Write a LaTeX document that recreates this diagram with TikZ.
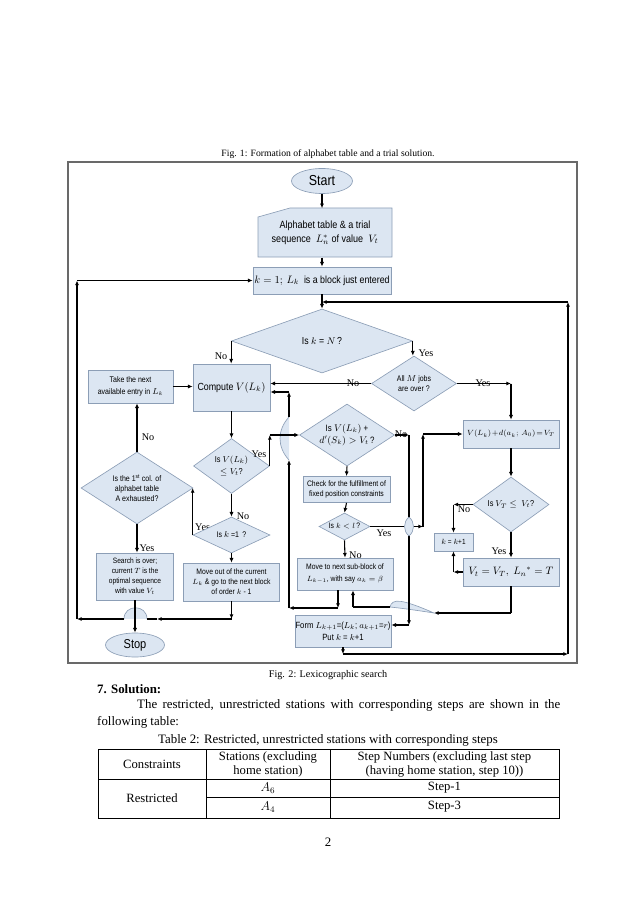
\documentclass[tikz,border=0pt]{standalone}
\usepackage{fontspec}
\setmainfont{Liberation Serif}
\newfontfamily\fcfam[FakeStretch=0.86]{Liberation Sans}
\usetikzlibrary{shapes.geometric,arrows.meta}
\definecolor{fcol}{RGB}{220,230,242}
\definecolor{bcol}{RGB}{140,158,182}
\definecolor{frmcol}{RGB}{105,105,105}
\newcommand{\pxu}{0.9326pt}
\begin{document}
\begin{tikzpicture}[x=0.9326pt,y=-0.9326pt,
  fcf/.style 2 args={font={\fcfam\fontsize{#1}{#2}\selectfont}},
  fc/.style={draw=bcol, fill=fcol, line width=0.6pt, inner sep=0pt, align=center},
  bx/.style 2 args={fc, rectangle, minimum width=#1*\pxu, minimum height=#2*\pxu},
  plainbox/.style 2 args={rectangle, inner sep=0pt, align=center, minimum width=#1*\pxu, minimum height=#2*\pxu},
  dm/.style n args={3}{fc, diamond, shape aspect=#3, minimum width=#1*\pxu, minimum height=#2*\pxu},
  el/.style 2 args={fc, ellipse, minimum width=#1*\pxu, minimum height=#2*\pxu},
  arr/.style={-{Latex[length=4.4pt,width=3.8pt]}, line width=1pt},
  ln/.style={line width=1pt},
  shp/.style={draw=bcol, fill=fcol, line width=0.6pt},
  lbl/.style={font=\fontsize{9.5}{10}\selectfont, inner sep=0pt},
  txt/.style={font=\fontsize{12}{14}\selectfont, inner sep=0pt},
  cellt/.style={font=\fontsize{11.8}{13.5}\selectfont, inner sep=0pt, align=center}]
\useasboundingbox (0,0) rectangle (638,902);

% captions
\node[font=\fontsize{9}{10}\selectfont, inner sep=0pt] (cap1) at (328,154) {Fig. 1: Formation of alphabet table and a trial solution.};
\draw[frmcol, line width=1.2pt] (68,162) rectangle (577,663);

% labels hidden partly behind shapes
\node[lbl, anchor=west] (lYes5) at (195,527) {Yes};
\node[lbl, anchor=west] (lNo7) at (349,555.5) {No};

% hops drawn under connectors
\fill[fcol] (124,619) .. controls (124,604) and (147,604) .. (147,619) -- cycle;
\draw[bcol, line width=0.6pt] (124,619) .. controls (124,604) and (147,604) .. (147,619);
\fill[fcol] (289,460) .. controls (277,447) and (277,430) .. (289,417) -- cycle;
\draw[bcol, line width=0.6pt] (289,460) .. controls (277,447) and (277,430) .. (289,417);

% nodes
\node[el={61}{25}, fcf={13.5}{16}] (start) at (322,181) {Start};
\filldraw[shp] (258,217) -- (290,208) -- (392,208) -- (392,257) -- (258,257) -- cycle;
\node[plainbox={134}{49}, fcf={9.8}{12.5}] (alpha) at (325,233) {Alphabet table \& a trial\\ sequence \ $L_n^{*}$ of value \ $V_t$};
\node[bx={138}{27}, fcf={9.6}{11}] (kbox) at (322,280.5) {$k = 1;\, L_k$ \ is a block just entered};
\node[dm={181}{64}{2.83}, fcf={9.5}{11}] (kN) at (322,341) {Is $k$ = $N$\,?};
\node[dm={85}{55}{1.55}, fcf={7.6}{9.5}] (allM) at (414,383.5) {All $M$ jobs\\ are over ?};
\node[bx={85}{33}, fcf={7.6}{11}] (take) at (130.5,386.5) {Take the next\\ available entry in $L_k$};
\node[bx={77}{47}, fcf={9.6}{11}] (compute) at (231.5,387.5) {Compute $V(L_k)$};
\node[dm={95}{62}{1.53}, fcf={8.6}{10.8}] (dprime) at (347,435) {Is $V(L_k)$ +\\ $d'(S_k) > V_t$\,?};
\node[bx={96}{28}, fcf={6.9}{9}] (vtd) at (511,434) {$V(L_k)\!+\!d(a_k;\, A_0)\!=\!V_T$};
\node[dm={76}{55}{1.38}, fcf={8}{11.5}] (leq) at (231.5,466) {Is $V(L_k)$\\ $\leq V_t$?};
\node[bx={87}{26}, fcf={7.4}{9.3}] (check) at (346.5,489.5) {Check for the fulfillment of\\ fixed position constraints};
\node[dm={112}{72}{1.55}, fcf={7.6}{9.6}] (col) at (137,488) {Is the 1\textsuperscript{st} col. of\\ alphabet table\\ A exhausted?};
\node[dm={76}{55}{1.38}, fcf={8}{10}] (VT) at (511,504.5) {Is $V_T \leq\ V_t$?};
\node[dm={51}{27}{1.89}, fcf={7.4}{9}] (kl) at (344.5,526.5) {Is $k < l$\,?};
\node[dm={77}{36}{2.14}, fcf={7.6}{9}] (k1) at (231.5,535) {Is $k$ =1 \,?};
\node[bx={39}{18}, fcf={7}{8}] (kk1) at (453.5,542) {$k$ = $k$+1};
\node[bx={77}{47}, fcf={7.2}{9.3}] (search) at (135,576.5) {Search is over;\\ current $T$ is the\\ optimal sequence\\ with value $V_t$};
\node[bx={96}{32}, fcf={7.4}{11}] (move) at (345,574) {Move to next sub-block of\\ $L_{k-1}$, with say $a_k = \beta$};
\node[bx={96}{28}, fcf={10}{12}] (vt) at (511,572) {$V_t = V_T,\ L_n{}^{*} = T$};
\node[bx={96}{38}, fcf={7.4}{9.3}] (moveout) at (231.5,582) {Move out of the current\\ $L_k$ \& go to the next block\\ of order $k$ - 1};
\node[bx={96}{32}, fcf={8.4}{11}] (frm) at (343,631) {Form $L_{k+1}$=($L_k$; $a_{k+1}$=$r$)\\ Put $k$ = $k$+1};
\node[el={59}{24}, fcf={12}{14}] (stop) at (135,645) {Stop};

% coordinates
\coordinate (ct) at (568,302);
\coordinate (cb) at (568,654);
\coordinate (cL) at (77,619);
\coordinate (hR) at (147,619);
\coordinate (hL) at (124,619);
\coordinate (ha) at (157,619);
\coordinate (cN) at (409,435);
\coordinate (cN2) at (409,625);
\coordinate (ck) at (423,526.5);
\coordinate (c1) at (338,608);
\coordinate (c2) at (289,608);
\coordinate (hB) at (289,460);
\coordinate (hT) at (289,417);
\coordinate (c3) at (289,392);
\coordinate (td1) at (434,613);
\coordinate (td2) at (390,607);
\coordinate (cm) at (353,607);

% connectors
\draw[arr] (start.south) -- (start.south |- alpha.north);
\draw[arr] (kbox.north |- alpha.south) -- (kbox.north);
\draw[arr] (kbox.south) -- (kN.north);
\draw[arr] (frm.south) -- (frm.south |- cb);
\draw[arr] (frm.south |- cb) -- (cb);
\draw[arr] (cb) -- (ct);
\draw[arr] (ct) -- (kN.north |- ct);

\draw[arr] (kN.west) -- (kN.west |- compute.north);
\draw[arr] (kN.east) -- (kN.east |- allM.north);
\draw[arr] (allM.west) -- (allM.west -| compute.east);
\coordinate (cy) at (allM.east -| vtd.north);
\draw[arr] (allM.east) -- (cy);
\draw[arr] (cy) -- (vtd.north);
\draw[arr] (vtd.south) -- (VT.north);
\coordinate (cno) at (VT.west -| kk1.north);
\draw[arr] (VT.west) -- (cno);
\draw[arr] (cno) -- (kk1.north);
\draw[arr] (VT.south) -- (vt.north);
\coordinate (cv) at (vt.west -| kk1.south);
\draw[arr] (vt.west) -- (cv);
\draw[arr] (cv) -- (kk1.south);
\draw[ln] (vt.south) -- (vt.south |- td1);
\draw[arr] (vt.south |- td1) -- (td1);
\filldraw[shp] (td2) .. controls (392,598) and (402,599) .. (td1) .. controls (415,610) and (400,608) .. (td2);
\draw[ln] (td2) -- (cm);
\draw[arr] (cm) -- (cm |- move.south);

\draw[arr] (compute.south) -- (leq.north);
\coordinate (cyes) at (leq.east |- dprime.west);
\draw[arr] (leq.east) -- (cyes);
\draw[arr] (cyes) -- (dprime.west);
\draw[arr] (leq.south) -- (k1.north);
\draw[arr] (k1.west) -- (k1.west |- col.east);
\draw[arr] (col.north) -- (col.north |- take.south);
\draw[arr] (take.east) -- (take.east -| compute.west);
\draw[arr] (col.south) -- (col.south |- search.north);
\draw[arr] (search.south) -- (stop.north);
\draw[arr] (k1.south) -- (moveout.north);
\draw[arr] (moveout.south) -- (moveout.south |- cL);
\draw[arr] (moveout.south |- cL) -- (ha);
\draw[ln] (ha) -- (hR);
\draw[arr] (hL) -- (cL);
\draw[arr] (cL) -- (cL |- kbox.west);
\draw[arr] (cL |- kbox.west) -- (kbox.west);

\draw[arr] (dprime.south) -- (check.north);
\draw[arr] (dprime.east) -- (cN);
\draw[arr] (cN) -- (cN2);
\draw[arr] (cN2) -- (cN2 -| frm.east);
\draw[arr] (check.south) -- (kl.north);
\draw[arr] (kl.east) -- (ck);
\draw[arr] (ck) -- (ck |- vtd.west);
\draw[arr] (ck |- vtd.west) -- (vtd.west);
\draw[arr] (kl.south) -- (move.north);
\filldraw[shp] (409,517) .. controls (403,522) and (403,531) .. (409,536) .. controls (415,531) and (415,522) .. (409,517);
\draw[arr] (c1 |- move.south) -- (c1);
\draw[arr] (c1) -- (c2);
\draw[arr] (c2) -- (hB);
\draw[arr] (hT) -- (c3);
\draw[arr] (c3) -- (c3 -| compute.east);

% labels
\node[lbl] (lNo1) at (221,356) {No};
\node[lbl] (lYes1) at (426,353) {Yes};
\node[lbl] (lNo2) at (353,383.5) {No};
\node[lbl] (lYes2) at (483,383.5) {Yes};
\node[lbl] (lYes3) at (259,454) {Yes};
\node[lbl] (lNo3) at (243,516) {No};
\node[lbl] (lNo4) at (148,437) {No};
\node[lbl] (lYes4) at (147,548) {Yes};
\node[lbl] (lNo5) at (401,434) {No};
\node[lbl] (lYes6) at (384,533) {Yes};
\node[lbl] (lNo6) at (464,509) {No};
\node[lbl] (lYes7) at (499,551) {Yes};

% text below
\node[font=\fontsize{9.5}{10}\selectfont, inner sep=0pt] (cap2) at (328,675) {Fig. 2: Lexicographic search};
\node[txt, anchor=west, font=\bfseries\fontsize{12}{14}\selectfont] (sol) at (97,689) {7. Solution:};
\node[txt, anchor=west] (p1) at (137,705) {\makebox[394.5pt][s]{The restricted, unrestricted stations with corresponding steps are shown in the}};
\node[txt, anchor=west] (p2) at (97,722) {following table:};
\node[txt] (tcap) at (328,740) {Table 2: Restricted, unrestricted stations with corresponding steps};

% table
\draw[line width=0.8pt] (98,749) rectangle (559,818);
\draw[line width=0.8pt] (206,749) -- (206,818);
\draw[line width=0.8pt] (330,749) -- (330,818);
\draw[line width=0.8pt] (98,779) -- (559,779);
\draw[line width=0.8pt] (206,797) -- (559,797);
\node[cellt] (h1) at (152,764) {Constraints};
\node[cellt] (h2) at (268,764.5) {Stations (excluding\\ home station)};
\node[cellt] (h3) at (444.5,764.5) {Step Numbers (excluding last step\\ (having home station, step 10))};
\node[cellt] (r0) at (152,798) {Restricted};
\node[cellt] (r1a) at (268,788) {$A_6$};
\node[cellt] (r1b) at (444.5,788) {Step-1};
\node[cellt] (r2a) at (268,807) {$A_4$};
\node[cellt] (r2b) at (444.5,807) {Step-3};
\node[txt] (pg) at (328,842) {2};
\end{tikzpicture}
\end{document}
